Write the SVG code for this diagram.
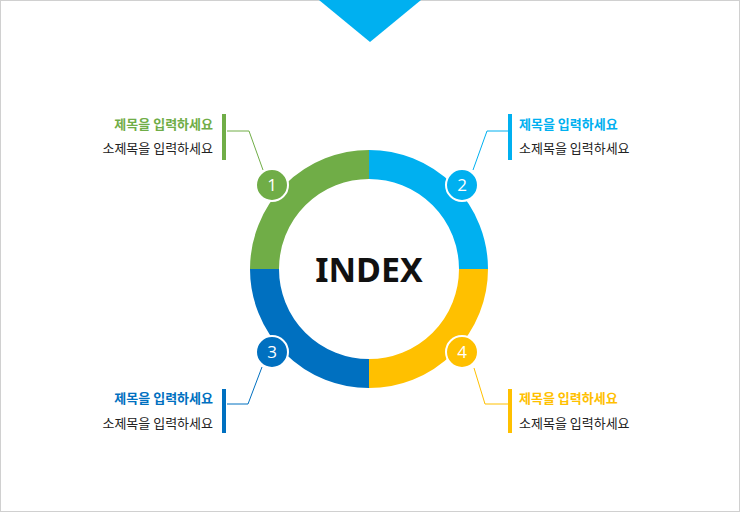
<svg xmlns="http://www.w3.org/2000/svg" width="740" height="512" viewBox="0 0 740 512">
<style>
.t{font-family:"Noto Sans CJK KR","Noto Sans",sans-serif;font-size:13px;font-weight:bold}
.s{font-family:"Noto Sans CJK KR","Noto Sans",sans-serif;font-size:13px;fill:#222}
.n{font-family:"Open Sans","Noto Sans",sans-serif;font-size:17px;fill:#fff;text-anchor:middle}
.seg{fill:none;stroke-width:29}
.l{fill:none;stroke-width:1}
</style>
<rect x="0.5" y="0.5" width="739" height="511" fill="#fff" stroke="#d0d0d0"/>
<polygon points="319,0 421,0 370,42" fill="#00b0f0"/>
<g id="ring">
<path class="seg" stroke="#70ad47" d="M264.5,269 A104.5,104.5 0 0 1 369,164.5"/>
<path class="seg" stroke="#00b0f0" d="M369,164.5 A104.5,104.5 0 0 1 473.5,269"/>
<path class="seg" stroke="#ffc000" d="M473.5,269 A104.5,104.5 0 0 1 369,373.5"/>
<path class="seg" stroke="#0070c0" d="M369,373.5 A104.5,104.5 0 0 1 264.5,269"/>
<text x="369" y="282" font-family="Noto Sans,sans-serif" font-size="34" font-weight="bold" text-anchor="middle" fill="#111">INDEX</text>
</g>
<g id="connectors">
<polyline class="l" stroke="#70ad47" points="227,131 249,131 263,170"/>
<polyline class="l" stroke="#00b0f0" points="508,131 487,131 473,170"/>
<polyline class="l" stroke="#0070c0" points="227,404 248,404 262,367"/>
<polyline class="l" stroke="#ffc000" points="474,368 485,404 508,404"/>
</g>
<g id="node1">
<circle cx="272" cy="185" r="16" fill="#70ad47" stroke="#fff" stroke-width="2"/>
<text class="n" x="272" y="191">1</text>
<rect x="222" y="114" width="4" height="46" fill="#70ad47"/>
<text class="t" x="213" y="129" text-anchor="end" fill="#70ad47">제목을 입력하세요</text>
<text class="s" x="213" y="153" text-anchor="end">소제목을 입력하세요</text>
</g>
<g id="node2">
<circle cx="462" cy="185" r="16" fill="#00b0f0" stroke="#fff" stroke-width="2"/>
<text class="n" x="462" y="191">2</text>
<rect x="508" y="114" width="4" height="46" fill="#00b0f0"/>
<text class="t" x="519" y="129" fill="#00b0f0">제목을 입력하세요</text>
<text class="s" x="519" y="153">소제목을 입력하세요</text>
</g>
<g id="node3">
<circle cx="272" cy="352" r="16" fill="#0070c0" stroke="#fff" stroke-width="2"/>
<text class="n" x="272" y="358">3</text>
<rect x="222" y="389" width="4" height="44" fill="#0070c0"/>
<text class="t" x="213" y="403" text-anchor="end" fill="#0070c0">제목을 입력하세요</text>
<text class="s" x="213" y="428" text-anchor="end">소제목을 입력하세요</text>
</g>
<g id="node4">
<circle cx="462" cy="352" r="16" fill="#ffc000" stroke="#fff" stroke-width="2"/>
<text class="n" x="462" y="358">4</text>
<rect x="508" y="389" width="4" height="44" fill="#ffc000"/>
<text class="t" x="519" y="403" fill="#ffc000">제목을 입력하세요</text>
<text class="s" x="519" y="428">소제목을 입력하세요</text>
</g>
</svg>
